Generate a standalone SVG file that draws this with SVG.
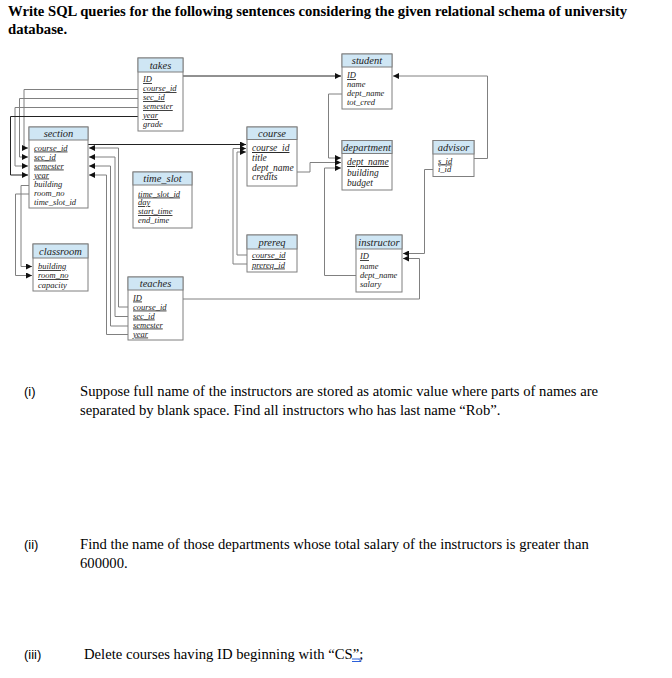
<svg xmlns="http://www.w3.org/2000/svg" width="672" height="678" viewBox="0 0 672 678">
<style>
.bg{fill:#fff}
.box{fill:#fff;stroke:#7f7f7f;stroke-width:1}
.hd{fill:#cfe6f4;stroke:#7f7f7f;stroke-width:1}
.t{font-family:"Liberation Serif",serif;font-style:italic;font-size:10.5px;fill:#222;text-anchor:middle}
.a{font-family:"Liberation Serif",serif;font-style:italic;font-size:8.5px;fill:#222}
.a2{font-family:"Liberation Serif",serif;font-style:italic;font-size:9.5px;fill:#222}
.u{text-decoration:underline}
.c{fill:none;stroke:#808080;stroke-width:1}
.k{fill:none;stroke:#222;stroke-width:1}
.q{font-family:"Liberation Serif",serif;font-size:14.67px;fill:#000}
.qb{font-family:"Liberation Serif",serif;font-size:14.67px;font-weight:bold;fill:#000}
.n{font-family:"Liberation Sans",sans-serif;font-size:13px;fill:#000}
</style>
<defs>
<marker id="ar" markerUnits="userSpaceOnUse" markerWidth="7" markerHeight="6" refX="6" refY="3" orient="auto">
<path d="M0,0 L6,3 L0,6 z" fill="#111"/>
</marker>
</defs>
<rect class="bg" x="0" y="0" width="672" height="678"/>
<g id="title">
<text class="qb" x="8" y="16">Write SQL queries for the following sentences considering the given relational schema of university</text>
<text class="qb" x="8" y="34">database.</text>
</g>
<g id="connectors">
<path class="k" d="M183 76 H341" marker-end="url(#ar)"/>
<path class="c" d="M138 89.5 H24 V148 H28" marker-end="url(#ar)"/>
<path class="c" d="M138 98.5 H19.5 V157 H28" marker-end="url(#ar)"/>
<path class="c" d="M138 107.5 H15 V166 H28" marker-end="url(#ar)"/>
<path class="k" d="M138 116.5 H10.5 V175 H28" marker-end="url(#ar)"/>
<path class="k" d="M88 144.5 H246" marker-end="url(#ar)"/>
<path class="c" d="M128 307 H118.5 V148 H89" marker-end="url(#ar)"/>
<path class="c" d="M128 316.5 H115 V157 H89" marker-end="url(#ar)"/>
<path class="c" d="M128 326 H110.5 V166 H89" marker-end="url(#ar)"/>
<path class="c" d="M128 334.5 H106.5 V175 H89" marker-end="url(#ar)"/>
<path class="c" d="M247 264 H233 V148.5 H246" marker-end="url(#ar)"/>
<path class="c" d="M247 255 H237 V152 H246" marker-end="url(#ar)"/>
<path class="c" d="M297 172 H310 V162.5 H341" marker-end="url(#ar)"/>
<path class="c" d="M342 94 H328.5 V158 H341" marker-end="url(#ar)"/>
<path class="c" d="M356 275.5 H324.5 V168 H341" marker-end="url(#ar)"/>
<path class="c" d="M474 158.5 H487.5 V76 H393" marker-end="url(#ar)"/>
<path class="c" d="M433 169.5 H424.5 V253.5 H403" marker-end="url(#ar)"/>
<path class="c" d="M183 299 H419.5 V258.5 H403" marker-end="url(#ar)"/>
<path class="c" d="M29 185.5 H21 V266.5 H32" marker-end="url(#ar)"/>
<path class="c" d="M29 194 H15.5 V275.5 H32" marker-end="url(#ar)"/>
</g>
<g id="takes">
<rect class="box" x="138" y="58" width="45" height="73"/>
<rect class="hd" x="138" y="58" width="45" height="14"/>
<text class="t" x="160.5" y="68.5">takes</text>
<text class="a u" x="143" y="82">ID</text>
<text class="a u" x="143" y="91">course_id</text>
<text class="a u" x="143" y="100">sec_id</text>
<text class="a u" x="143" y="109">semester</text>
<text class="a u" x="143" y="118">year</text>
<text class="a" x="143" y="127">grade</text>
</g>
<g id="section">
<rect class="box" x="29" y="127" width="59" height="81"/>
<rect class="hd" x="29" y="127" width="59" height="13"/>
<text class="t" x="58.5" y="137">section</text>
<text class="a u" x="34" y="150.5">course_id</text>
<text class="a u" x="34" y="159.5">sec_id</text>
<text class="a u" x="34" y="168.5">semester</text>
<text class="a u" x="34" y="177.5">year</text>
<text class="a" x="34" y="186.5">building</text>
<text class="a" x="34" y="195.5">room_no</text>
<text class="a" x="34" y="204.5">time_slot_id</text>
</g>
<g id="time_slot">
<rect class="box" x="133" y="172" width="59" height="56"/>
<rect class="hd" x="133" y="172" width="59" height="13"/>
<text class="t" x="162.5" y="182">time_slot</text>
<text class="a u" x="138" y="196.5">time_slot_id</text>
<text class="a u" x="138" y="205">day</text>
<text class="a u" x="138" y="214">start_time</text>
<text class="a" x="138" y="223">end_time</text>
</g>
<g id="course">
<rect class="box" x="247" y="127" width="50" height="59"/>
<rect class="hd" x="247" y="127" width="50" height="12.5"/>
<text class="t" x="272" y="137">course</text>
<text class="a2 u" x="252" y="151">course_id</text>
<text class="a2" x="252" y="161">title</text>
<text class="a2" x="252" y="170.5">dept_name</text>
<text class="a2" x="252" y="179.5">credits</text>
</g>
<g id="student">
<rect class="box" x="342" y="54" width="50" height="55"/>
<rect class="hd" x="342" y="54" width="50" height="13"/>
<text class="t" x="367" y="64">student</text>
<text class="a u" x="347" y="78">ID</text>
<text class="a" x="347" y="87">name</text>
<text class="a" x="347" y="96">dept_name</text>
<text class="a" x="347" y="105">tot_cred</text>
</g>
<g id="department">
<rect class="box" x="342" y="140.5" width="50" height="49.5"/>
<rect class="hd" x="342" y="140.5" width="50" height="13"/>
<text class="t" x="367" y="150.5">department</text>
<text class="a2 u" x="347" y="165">dept_name</text>
<text class="a2" x="347" y="175.5">building</text>
<text class="a2" x="347" y="186">budget</text>
</g>
<g id="advisor">
<rect class="box" x="433" y="140.5" width="41" height="36"/>
<rect class="hd" x="433" y="140.5" width="41" height="13.5"/>
<text class="t" x="453.5" y="151">advisor</text>
<text class="a u" x="438" y="163.5">s_id</text>
<text class="a" x="438" y="172">i_id</text>
</g>
<g id="prereq">
<rect class="box" x="247" y="235" width="50" height="37"/>
<rect class="hd" x="247" y="235" width="50" height="14"/>
<text class="t" x="272" y="245.5">prereq</text>
<text class="a u" x="252" y="258">course_id</text>
<text class="a u" x="252" y="267.5">prereq_id</text>
</g>
<g id="instructor">
<rect class="box" x="356" y="235" width="46" height="57"/>
<rect class="hd" x="356" y="235" width="46" height="14"/>
<text class="t" x="379" y="245.5">instructor</text>
<text class="a u" x="360" y="259">ID</text>
<text class="a" x="360" y="268.5">name</text>
<text class="a" x="360" y="278">dept_name</text>
<text class="a" x="360" y="287">salary</text>
</g>
<g id="classroom">
<rect class="box" x="33" y="244" width="55" height="47"/>
<rect class="hd" x="33" y="244" width="55" height="14"/>
<text class="t" x="60.5" y="254.5">classroom</text>
<text class="a u" x="38" y="269">building</text>
<text class="a u" x="38" y="278">room_no</text>
<text class="a" x="38" y="287.5">capacity</text>
</g>
<g id="teaches">
<rect class="box" x="128" y="277" width="55" height="63"/>
<rect class="hd" x="128" y="277" width="55" height="13"/>
<text class="t" x="155.5" y="287">teaches</text>
<text class="a u" x="133" y="300.5">ID</text>
<text class="a u" x="133" y="309.5">course_id</text>
<text class="a u" x="133" y="318.5">sec_id</text>
<text class="a u" x="133" y="327.5">semester</text>
<text class="a u" x="133" y="336.5">year</text>
</g>
<g id="questions">
<text class="n" x="24" y="396">(i)</text>
<text class="q" x="80" y="396">Suppose full name of the instructors are stored as atomic value where parts of names are</text>
<text class="q" x="80" y="415">separated by blank space. Find all instructors who has last name “Rob”.</text>
<text class="n" x="24" y="549">(ii)</text>
<text class="q" x="80" y="549">Find the name of those departments whose total salary of the instructors is greater than</text>
<text class="q" x="80" y="568">600000.</text>
<text class="n" x="24" y="659">(iii)</text>
<text class="q" x="84" y="659">Delete courses having ID beginning with “CS”;</text>
<path d="M352 659 H361 M352 661.5 H361 M359 659.5 L361 661.5" fill="none" stroke="#2b5fd9" stroke-width="1"/>
</g>
</svg>
